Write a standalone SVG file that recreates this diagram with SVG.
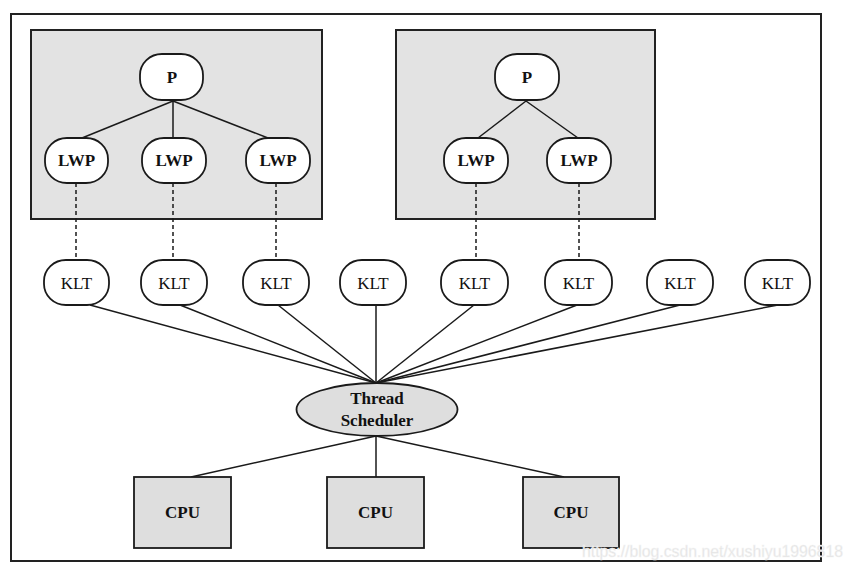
<svg xmlns="http://www.w3.org/2000/svg" width="854" height="571" viewBox="0 0 854 571">
<style>
.box{fill:#e3e3e3;stroke:#222;stroke-width:2}
.node{fill:#fff;stroke:#1a1a1a;stroke-width:1.8}
.lbl{font-family:"Liberation Serif",serif;font-weight:bold;font-size:17px;fill:#111;text-anchor:middle}
.klt{font-family:"Liberation Serif",serif;font-size:17px;fill:#111;text-anchor:middle}
.ln{stroke:#1a1a1a;stroke-width:1.5;fill:none}
.dash{stroke:#1a1a1a;stroke-width:1.5;stroke-dasharray:4 3;fill:none}
.gray{fill:#dedede;stroke:#1a1a1a;stroke-width:1.8}
</style>
<rect width="854" height="571" fill="#fff"/>
<rect id="frame" x="11" y="14" width="810" height="547" fill="none" stroke="#222" stroke-width="2"/>
<g id="process1"><rect class="box" x="31" y="30" width="291" height="189"/></g>
<g id="process2"><rect class="box" x="396" y="30" width="259" height="189"/></g>
<g id="connectors">
<line class="ln" x1="173" y1="101" x2="82" y2="138"/>
<line class="ln" x1="173" y1="101" x2="173" y2="138"/>
<line class="ln" x1="173" y1="101" x2="268" y2="138"/>
<line class="ln" x1="526" y1="101" x2="478" y2="138"/>
<line class="ln" x1="526" y1="101" x2="578" y2="138"/>
<line class="dash" x1="76" y1="183" x2="76" y2="260"/>
<line class="dash" x1="173" y1="183" x2="173" y2="260"/>
<line class="dash" x1="276" y1="183" x2="276" y2="260"/>
<line class="dash" x1="476" y1="183" x2="476" y2="260"/>
<line class="dash" x1="579" y1="183" x2="579" y2="260"/>
<line class="ln" x1="90" y1="305" x2="376" y2="383"/>
<line class="ln" x1="180" y1="305" x2="376" y2="383"/>
<line class="ln" x1="278" y1="305" x2="376" y2="383"/>
<line class="ln" x1="376" y1="305" x2="376" y2="383"/>
<line class="ln" x1="474" y1="305" x2="376" y2="383"/>
<line class="ln" x1="577" y1="305" x2="376" y2="383"/>
<line class="ln" x1="680" y1="305" x2="376" y2="383"/>
<line class="ln" x1="778" y1="305" x2="376" y2="383"/>
<line class="ln" x1="376" y1="436" x2="191" y2="477"/>
<line class="ln" x1="376" y1="436" x2="376" y2="477"/>
<line class="ln" x1="376" y1="436" x2="564" y2="477"/>
</g>
<g id="p1"><rect class="node" x="140" y="54" width="63" height="46" rx="22" ry="21"/><text class="lbl" x="172" y="83" font-size="18">P</text></g>
<g id="p2"><rect class="node" x="495" y="54" width="64" height="46" rx="22" ry="21"/><text class="lbl" x="527" y="83" font-size="18">P</text></g>
<g id="lwp1"><rect class="node" x="45" y="138" width="63" height="45" rx="22" ry="21"/><text class="lbl" x="76.5" y="166">LWP</text></g>
<g id="lwp2"><rect class="node" x="142" y="138" width="64" height="45" rx="22" ry="21"/><text class="lbl" x="174" y="166">LWP</text></g>
<g id="lwp3"><rect class="node" x="246" y="138" width="64" height="45" rx="22" ry="21"/><text class="lbl" x="278" y="166">LWP</text></g>
<g id="lwp4"><rect class="node" x="444" y="138" width="64" height="45" rx="22" ry="21"/><text class="lbl" x="476" y="166">LWP</text></g>
<g id="lwp5"><rect class="node" x="547" y="138" width="64" height="45" rx="22" ry="21"/><text class="lbl" x="579" y="166">LWP</text></g>
<g id="klt1"><rect class="node" x="44" y="260" width="65" height="45" rx="22" ry="21"/><text class="klt" x="76.5" y="289">KLT</text></g>
<g id="klt2"><rect class="node" x="141" y="260" width="66" height="45" rx="22" ry="21"/><text class="klt" x="174" y="289">KLT</text></g>
<g id="klt3"><rect class="node" x="243" y="260" width="66" height="45" rx="22" ry="21"/><text class="klt" x="276" y="289">KLT</text></g>
<g id="klt4"><rect class="node" x="340" y="260" width="66" height="45" rx="22" ry="21"/><text class="klt" x="373" y="289">KLT</text></g>
<g id="klt5"><rect class="node" x="441" y="260" width="67" height="45" rx="22" ry="21"/><text class="klt" x="474.5" y="289">KLT</text></g>
<g id="klt6"><rect class="node" x="545" y="260" width="67" height="45" rx="22" ry="21"/><text class="klt" x="578.5" y="289">KLT</text></g>
<g id="klt7"><rect class="node" x="647" y="260" width="66" height="45" rx="22" ry="21"/><text class="klt" x="680" y="289">KLT</text></g>
<g id="klt8"><rect class="node" x="745" y="260" width="65" height="45" rx="22" ry="21"/><text class="klt" x="777.5" y="289">KLT</text></g>
<g id="scheduler"><ellipse class="gray" cx="377" cy="409.5" rx="80.5" ry="26.5"/><text class="lbl" x="377" y="404" font-size="16">Thread</text><text class="lbl" x="377" y="426" font-size="16">Scheduler</text></g>
<g id="cpu1"><rect class="gray" x="134" y="477" width="97" height="71"/><text class="lbl" x="182.5" y="518" font-size="16">CPU</text></g>
<g id="cpu2"><rect class="gray" x="327" y="477" width="97" height="71"/><text class="lbl" x="375.5" y="518" font-size="16">CPU</text></g>
<g id="cpu3"><rect class="gray" x="523" y="477" width="96" height="71"/><text class="lbl" x="571" y="518" font-size="16">CPU</text></g>
<text x="582" y="557" font-family="Liberation Sans, sans-serif" font-size="17" fill="#e2e2e2" stroke="#f4f4f4" stroke-width="0.5" textLength="261" lengthAdjust="spacingAndGlyphs">https://blog.csdn.net/xushiyu1996818</text>
</svg>
